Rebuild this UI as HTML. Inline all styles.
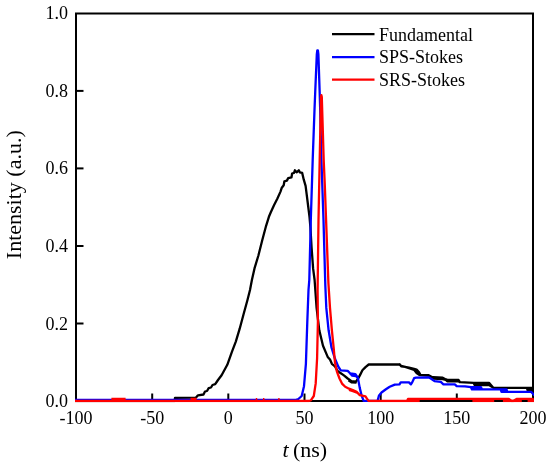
<!DOCTYPE html>
<html><head><meta charset="utf-8"><title>Intensity vs t</title>
<style>
html,body{margin:0;padding:0;background:#fff;}
body{width:550px;height:465px;overflow:hidden;}
svg{display:block;font-family:"Liberation Serif",serif;fill:#000;}
.tk{font-size:18px;}
.lg{font-size:18px;}
.ax{font-size:22px;}
</style></head><body>
<svg width="550" height="465" viewBox="0 0 550 465">
<rect width="550" height="465" fill="#fff"/>
<g stroke="#000" stroke-width="2" fill="none">
<path d="M76,401 L76,13.4 L533,13.4 L533,401 Z" stroke-linejoin="miter"/>
<line x1="152.2" y1="401" x2="152.2" y2="393.5"/><line x1="228.3" y1="401" x2="228.3" y2="393.5"/><line x1="304.5" y1="401" x2="304.5" y2="393.5"/><line x1="380.7" y1="401" x2="380.7" y2="393.5"/><line x1="456.8" y1="401" x2="456.8" y2="393.5"/><line x1="76" y1="323.5" x2="83.5" y2="323.5"/><line x1="76" y1="246.0" x2="83.5" y2="246.0"/><line x1="76" y1="168.4" x2="83.5" y2="168.4"/><line x1="76" y1="90.9" x2="83.5" y2="90.9"/>
</g>
<clipPath id="cp"><rect x="75" y="12" width="459" height="390.2"/></clipPath>
<g fill="none" clip-path="url(#cp)" stroke-linejoin="round" stroke-linecap="butt" stroke-width="2.3">
<polyline stroke="#000" points="75.0,401.0 174.6,401.0 175.0,397.9 196.0,397.6 198.0,395.3 203.5,394.5 205.0,391.5 207.0,391.0 208.7,388.1 211.0,387.5 212.5,385.0 215.2,384.2 218.0,380.0 221.6,375.2 227.3,364.8 231.9,351.9 235.8,341.6 239.7,328.7 243.5,314.5 247.4,300.3 250.0,290.0 251.9,280.0 254.5,268.4 258.4,255.5 262.3,240.0 266.1,225.8 268.9,216.8 270.8,212.3 274.0,205.2 277.3,198.7 280.5,191.6 281.8,187.7 283.7,185.2 284.4,181.3 286.9,180.6 288.2,178.1 291.5,177.4 292.1,173.5 294.0,172.9 294.9,170.3 296.6,172.3 298.8,170.3 299.8,172.3 302.2,172.9 303.7,179.4 305.6,185.8 306.9,196.1 308.2,206.5 309.5,216.8 310.4,227.1 311.6,247.7 313.1,268.4 314.6,280.0 316.6,307.9 319.3,330.3 323.0,345.7 327.7,356.9 330.0,359.5 331.9,363.8 335.0,366.5 337.5,370.8 340.1,372.8 343.9,375.4 347.7,378.5 351.5,381.1 356.0,381.7 358.5,377.9 360.5,374.1 362.4,370.3 365.5,367.1 368.7,364.5 399.9,364.5"/>
<polygon stroke="#000" fill="#000" points="399.9,364.5 401.2,366.0 405.2,366.8 409.0,367.6 414.1,368.8 416.6,369.5 419.2,372.6 420.5,375.0 428.7,375.2 431.9,377.1 433.2,377.1 442.7,377.7 445.9,379.4 447.2,379.6 458.6,380.0 459.9,382.2 473.8,382.8 489.0,382.8 493.5,387.9 534.0,387.9 534.0,390.1 527.5,390.1 527.0,387.9 493.5,387.9 489.0,385.0 474.5,385.0 473.8,382.8 459.9,382.2 458.6,381.3 447.2,381.3 445.9,380.0 442.7,379.1 433.2,378.7 431.9,377.4 428.7,375.5 420.5,375.2 419.2,374.9 416.6,373.0 414.1,369.8 409.0,368.2 405.2,366.8 401.2,366.3 399.9,364.5"/>
<polyline stroke="#000" points="348.5,380.2 351.5,382.4 356.5,382.6"/>
<polyline stroke="#0000ff" points="75.0,399.8 296.0,399.8 298.4,399.0 301.7,396.0 304.0,386.2 305.9,363.8 307.3,321.9 308.5,290.0 309.3,280.0 310.8,220.0 312.7,160.0 314.5,110.0 315.3,90.0 316.8,54.5 317.3,50.5 317.9,50.5 318.4,54.5 319.6,90.0 320.2,110.0 321.4,160.0 323.5,220.0 325.3,285.0 326.3,307.9 328.6,330.3 331.4,347.1 335.0,358.8 338.2,366.5 340.7,370.3 347.7,370.9 350.3,373.5 355.4,374.1 357.9,377.9 359.8,388.1 361.7,395.7 363.6,400.8 377.6,400.8 378.9,395.7 381.5,392.5 385.9,389.3 389.7,386.8 394.8,384.6 399.5,384.4 400.7,382.4 409.0,382.4 410.9,384.4 412.2,382.4 414.1,378.2 416.0,377.6 428.7,377.3 431.9,379.2 434.5,381.1 440.8,381.9 443.4,384.3 454.8,384.4 456.7,386.2 465.0,386.4 471.0,387.2"/>
<polygon stroke="#0000ff" fill="#0000ff" points="471.0,387.2 481.0,387.2 482.0,389.4 500.7,389.4 506.5,389.4 507.3,391.9 531.3,391.9 534.0,395.0 534.0,395.0 531.3,391.9 501.5,391.9 500.7,389.4 481.0,389.4 472.0,389.4 471.0,387.2"/>
<polyline stroke="#0000ff" points="350.3,373.5 352.0,375.6 356.0,376.2 357.9,377.9"/>
<polyline stroke="#ff0000" points="75.0,401.0 309.0,401.0 311.0,400.2 313.8,396.0 315.7,383.4 317.1,358.3 317.9,321.9 317.6,290.0 318.5,220.0 319.7,160.0 321.0,97.0 321.4,95.2 321.8,97.0 323.7,160.0 324.8,185.0 328.4,283.0 330.0,307.9 331.9,330.3 333.6,347.1 335.0,362.6 336.9,371.5 339.5,378.5 342.0,383.6 345.2,386.8 349.0,388.7 352.8,390.0 356.6,391.9 359.8,395.1 365.5,396.4 367.5,399.5 368.7,401.0 419.7,401.0"/>
<polyline stroke="#ff0000" points="349.0,389.8 353.0,391.2 357.0,392.8"/>
<polyline stroke="#ff0000" points="407.2,401.0 408.0,398.9 508.8,398.9 511.6,401.0 513.2,401.0 516.6,398.9 532.7,398.9 534.0,401.0"/>
<polyline stroke="#ff0000" points="111.4,398.9 125.6,398.9"/>
<polyline stroke="#ff0000" points="190.6,398.9 196.6,398.9"/>
<polyline stroke="#ff0000" points="255.8,399.2 257.2,399.2"/>
<polyline stroke="#ff0000" points="263.0,399.2 264.4,399.2"/>
<polyline stroke="#ff0000" points="278.2,399.2 279.6,399.2"/>
<polyline stroke="#ff0000" points="472.4,401.0 494.2,401.0"/>
<polyline stroke="#ff0000" points="502.9,401.0 521.8,401.0"/>
<polyline stroke="#ff0000" points="527.6,401.0 534.0,401.0"/>
</g>
<g stroke-width="2.2" fill="none">
<line x1="332" y1="34.2" x2="374.5" y2="34.2" stroke="#000"/>
<line x1="332" y1="57.2" x2="374.5" y2="57.2" stroke="#0000ff"/>
<line x1="332" y1="79.6" x2="374.5" y2="79.6" stroke="#ff0000"/>
</g>
<g class="lg">
<text x="379" y="40.6">Fundamental</text>
<text x="379" y="63.4">SPS-Stokes</text>
<text x="379" y="86">SRS-Stokes</text>
</g>
<g class="tk"><text x="76.0" y="424" text-anchor="middle">-100</text><text x="152.2" y="424" text-anchor="middle">-50</text><text x="228.3" y="424" text-anchor="middle">0</text><text x="304.5" y="424" text-anchor="middle">50</text><text x="380.7" y="424" text-anchor="middle">100</text><text x="456.8" y="424" text-anchor="middle">150</text><text x="533.0" y="424" text-anchor="middle">200</text><text x="68" y="407.0" text-anchor="end">0.0</text><text x="68" y="329.5" text-anchor="end">0.2</text><text x="68" y="252.0" text-anchor="end">0.4</text><text x="68" y="174.4" text-anchor="end">0.6</text><text x="68" y="96.9" text-anchor="end">0.8</text><text x="68" y="19.4" text-anchor="end">1.0</text></g>
<text class="ax" transform="translate(20.9,194.7) rotate(-90)" text-anchor="middle">Intensity (a.u.)</text>
<text class="ax" x="282.6" y="456.8"><tspan font-style="italic">t</tspan><tspan dx="-1.3"> (ns)</tspan></text>
</svg>
</body></html>
